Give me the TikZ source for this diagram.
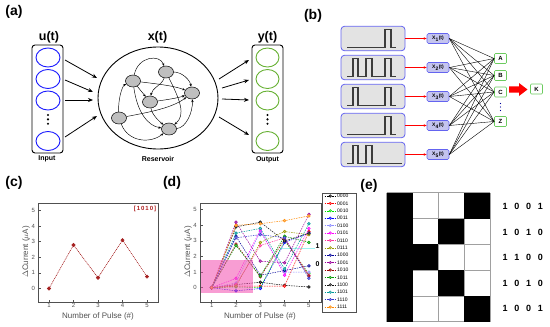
\documentclass[tikz,border=0pt]{standalone}
\usepackage{fontspec}
\setmainfont{Liberation Sans}
\usetikzlibrary{arrows.meta,shapes.geometric}
\definecolor{inblue}{HTML}{1A1AFF}
\definecolor{outgreen}{HTML}{66B032}
\definecolor{boxblue}{HTML}{6464F0}
\definecolor{sigfill}{HTML}{E3E3E3}
\definecolor{xfill}{HTML}{C4C4EE}
\definecolor{wave}{HTML}{3C3C3C}
\definecolor{lettergreen}{HTML}{6CCB5F}
\definecolor{axisgray}{HTML}{505050}
\definecolor{dred}{HTML}{A52020}
\definecolor{c0000}{HTML}{000000}
\definecolor{c0001}{HTML}{FF0000}
\definecolor{c0010}{HTML}{00E000}
\definecolor{c0011}{HTML}{0000FF}
\definecolor{c0100}{HTML}{8C8CFF}
\definecolor{c0101}{HTML}{FF00FF}
\definecolor{c0110}{HTML}{FF3399}
\definecolor{c0111}{HTML}{9A9A00}
\definecolor{c1000}{HTML}{000099}
\definecolor{c1001}{HTML}{990099}
\definecolor{c1010}{HTML}{990000}
\definecolor{c1011}{HTML}{009900}
\definecolor{c1100}{HTML}{111111}
\definecolor{c1101}{HTML}{009999}
\definecolor{c1110}{HTML}{3333CC}
\definecolor{c1111}{HTML}{FF8800}
\definecolor{cyanline}{HTML}{A0F0F0}
\definecolor{gridgray}{HTML}{A0A0A0}
\begin{document}
\begin{tikzpicture}[x=1pt,y=-1pt,
 panellabel/.style={font=\fontsize{14}{14}\selectfont\bfseries, inner sep=0},
 vlabel/.style={font=\fontsize{12.5}{12.5}\selectfont\bfseries, inner sep=0},
 sublabel/.style={font=\fontsize{7}{7}\selectfont\bfseries, inner sep=0},
 colbox/.style={draw, rounded corners=3pt, line width=0.9pt, minimum width=31pt, minimum height=108pt, inner sep=0},
 inell/.style={ellipse, draw=inblue, line width=0.9pt, minimum width=24pt, minimum height=19pt, inner sep=0},
 outell/.style={ellipse, draw=outgreen, line width=0.9pt, minimum width=23pt, minimum height=19pt, inner sep=0},
 resnode/.style={ellipse, draw, fill=gray!50, line width=0.5pt, minimum width=15pt, minimum height=12pt, inner sep=0},
 redge/.style={-{Stealth[length=3pt,width=2.4pt]}, line width=0.45pt},
 bigarr/.style={-{Stealth[length=5pt,width=4pt]}, line width=0.8pt},
 sigbox/.style={draw=boxblue, fill=sigfill, rounded corners=3.5pt, line width=0.8pt, minimum width=64pt, minimum height=24.5pt, inner sep=0},
 wavel/.style={draw=wave, line width=1.1pt},
 xnode/.style={draw=boxblue, fill=xfill, rounded corners=1.5pt, line width=0.7pt, minimum width=22pt, minimum height=10pt, inner sep=0, font=\fontsize{5}{5}\selectfont\bfseries},
 lnode/.style={draw=lettergreen, fill=white, rounded corners=1pt, line width=0.7pt, minimum width=12pt, minimum height=10pt, inner sep=0, font=\fontsize{6}{6}\selectfont\bfseries},
 redarr/.style={-{Stealth[length=3pt,width=2.5pt]}, draw=red, line width=0.6pt},
 conn/.style={line width=0.4pt},
 plotframe/.style={draw=axisgray, line width=0.9pt},
 ticklab/.style={font=\fontsize{6}{6}\selectfont, text=axisgray, inner sep=0},
 axtitle/.style={font=\fontsize{8}{8}\selectfont, text=axisgray, inner sep=0},
 cline/.style={draw=dred, line width=0.6pt, dash pattern=on 1pt off 0.8pt, mark=*, mark size=1.6pt, mark options={solid, fill=dred}},
 dline/.style={draw=#1, line width=0.5pt, dash pattern=on 1.5pt off 1pt, mark=*, mark size=1.4pt, mark options={solid, fill=#1!60, draw=#1}},
 legtext/.style={font=\fontsize{5}{5}\selectfont, inner sep=0, anchor=west},
 rowlab/.style={font=\fontsize{9}{9}\selectfont\bfseries, inner sep=0},
]
\useasboundingbox (0,0) rectangle (550,327);

% ================= (a) =================
\node[panellabel] (la) at (14,12) {(a)};
\node[vlabel] (ut) at (49,37) {u(t)};
\node[vlabel] (xt) at (157.5,37) {x(t)};
\node[vlabel] (yt) at (267.5,37) {y(t)};
\node[colbox] (inbox) at (47.5,99) {};
\node[colbox] (outbox) at (267.5,99) {};
\node[inell] (i1) at (48,57.5) {};
\node[inell] (i2) at (48,79) {};
\node[inell] (i3) at (48,100.5) {};
\node[inell] (i4) at (48,141) {};
\fill (48,115) circle (1.2) (48,119.3) circle (1.2) (48,123.7) circle (1.2);
\node[outell] (o1) at (267.5,57.5) {};
\node[outell] (o2) at (267.5,79) {};
\node[outell] (o3) at (267.5,100.5) {};
\node[outell] (o4) at (267.5,141) {};
\fill (267.5,115) circle (1.2) (267.5,119.3) circle (1.2) (267.5,123.7) circle (1.2);
\node[sublabel] (inlab) at (47,159) {Input};
\node[sublabel] (reslab) at (158,159) {Reservoir};
\node[sublabel] (outlab) at (267.5,160) {Output};
\node[ellipse, draw, line width=0.9pt, minimum width=120pt, minimum height=102pt, inner sep=0] (res) at (158,98) {};
% input arrows
\coordinate (ia1) at (65,60);  \coordinate (ib1) at (97,78);
\coordinate (ia2) at (65,80);  \coordinate (ib2) at (93,92);
\coordinate (ia3) at (65,100); \coordinate (ib3) at (93,100);
\coordinate (ia4) at (65,137); \coordinate (ib4) at (97,116);
\foreach \k in {1,2,3,4} {\draw[bigarr] (ia\k) -- (ib\k);}
% output arrows
\coordinate (oa1) at (219,79);  \coordinate (ob1) at (249,60);
\coordinate (oa2) at (222,88);  \coordinate (ob2) at (249,80);
\coordinate (oa3) at (222,99);  \coordinate (ob3) at (249,100);
\coordinate (oa4) at (219,117); \coordinate (ob4) at (249,135);
\foreach \k in {1,2,3,4} {\draw[bigarr] (oa\k) -- (ob\k);}
% reservoir nodes
\node[resnode] (n1) at (133,81) {};
\node[resnode] (n2) at (166,72) {};
\node[resnode] (n3) at (192,93) {};
\node[resnode] (n4) at (150,102) {};
\node[resnode] (n5) at (119,118) {};
\node[resnode] (n6) at (169,129) {};
\draw[redge] (n1) .. controls (138,56) and (160,54) .. (n2);
\draw[redge] (n1) .. controls (158,84) and (175,86) .. (n3);
\draw[redge] (n1) -- (n4);
\draw[redge] (n1) .. controls (137,112) and (148,126) .. (n6);
\draw[redge] (n5) .. controls (118,100) and (122,86) .. (n1);
\draw[redge] (n5) .. controls (150,112) and (172,108) .. (n3);
\draw[redge] (n5) .. controls (128,142) and (150,144) .. (n6);
\draw[redge] (n2) .. controls (182,72) and (190,80) .. (n3);
\draw[redge] (n2) .. controls (162,85) and (152,88) .. (n4);
\draw[redge] (n4) .. controls (152,115) and (160,122) .. (n6);
\draw[redge] (n4) .. controls (165,100) and (178,98) .. (n3);
\draw[redge] (n6) .. controls (186,128) and (193,112) .. (n3);
\draw[redge] (n2) .. controls (180,100) and (186,115) .. (n6);

% ================= (b) =================
\node[panellabel] (lb) at (313,16) {(b)};
\foreach \k/\yy in {1/38.5,2/67.5,3/96.5,4/125.5,5/154.5} {
  \node[sigbox] (s\k) at (373,\yy) {};
  \node[xnode] (x\k) at (438,\yy) {X\textsubscript{\k}(t)};
  \draw[redarr] (s\k) -- (x\k);
}
% waveforms
\draw[wavel] (347,47.5) -- (385,47.5) -- (385,29.5) -- (391,29.5) -- (391,47.5) -- (396,47.5);
\draw[wavel] (347,76.5) -- (353,76.5) -- (353,58.5) -- (358,58.5) -- (358,76.5) -- (366,76.5) -- (366,58.5) -- (372,58.5) -- (372,76.5) -- (385,76.5) -- (385,58.5) -- (391,58.5) -- (391,76.5) -- (396,76.5);
\draw[wavel] (347,105.5) -- (353,105.5) -- (353,87.5) -- (358,87.5) -- (358,105.5) -- (385,105.5) -- (385,87.5) -- (391,87.5) -- (391,105.5) -- (396,105.5);
\draw[wavel] (347,134.5) -- (385,134.5) -- (385,116.5) -- (391,116.5) -- (391,134.5) -- (396,134.5);
\draw[wavel] (347,163.5) -- (353,163.5) -- (353,145.5) -- (358,145.5) -- (358,163.5) -- (366,163.5) -- (366,145.5) -- (372,145.5) -- (372,163.5) -- (402,163.5);
% letters
\node[lnode] (lA) at (500.5,58.5) {A};
\node[lnode] (lB) at (500.5,75.5) {B};
\node[lnode] (lC) at (500.5,92) {C};
\node[lnode] (lZ) at (500.5,121.5) {Z};
\fill[c1000] (500.5,103.5) circle (0.6) (500.5,107) circle (0.6) (500.5,110.5) circle (0.6);
\foreach \k in {1,...,5} {\foreach \L in {A,B,C,Z} {\draw[conn] (x\k.east) -- (l\L.west);}}
\node[lnode] (lK) at (536.5,89) {K};
\fill[red] (509,86.3) -- (519,86.3) -- (519,83) -- (527.5,89.5) -- (519,96) -- (519,92.7) -- (509,92.7) -- cycle;

% ================= (c) =================
\node[panellabel] (lc) at (14,183) {(c)};
\draw[plotframe] (38,203) rectangle (158,302);
\foreach \k in {0,...,5} {
  \draw[axisgray, line width=0.5pt] (38,288.5-15.6*\k) -- (40.5,288.5-15.6*\k);
  \node[ticklab] (cy\k) at (33.3,288.5-15.6*\k) {\k};
}
\foreach \k in {1,...,5} {
  \draw[axisgray, line width=0.5pt] (49+24.5*\k-24.5,302) -- (49+24.5*\k-24.5,299.5);
  \node[ticklab] (cx\k) at (49+24.5*\k-24.5,305.5) {\k};
}
\node[axtitle] (cxt) at (98,316) {Number of Pulse (\#)};
\node[axtitle, rotate=90] (cyt) at (26,252) {$\Delta$Current ($\mu$A)};
\begin{scope}[shift={(24.5,288.5)}, x=24.5pt, y=15.6pt]
  \draw[cline] plot coordinates {(1,0) (2,2.79) (3,0.69) (4,3.1) (5,0.76)};
\end{scope}
\node[font=\fontsize{6}{6}\selectfont\bfseries, text=dred!90!red, inner sep=0] (ctag) at (145,208.5) {[\,1\,0\,1\,0\,]};

% ================= (d) =================
\node[panellabel] (ld) at (172,183) {(d)};
\draw[plotframe] (200,203) rectangle (321,302);
\foreach \k in {0,...,5} {
  \draw[axisgray, line width=0.5pt] (200,287.7-15.6*\k) -- (202.5,287.7-15.6*\k);
  \node[ticklab] (dy\k) at (195,287.7-15.6*\k) {\k};
}
\foreach \k in {1,...,5} {
  \draw[axisgray, line width=0.5pt] (211.7+24.3*\k-24.3,302) -- (211.7+24.3*\k-24.3,299.5);
  \node[ticklab] (dx\k) at (211.7+24.3*\k-24.3,305.5) {\k};
}
\node[axtitle] (dxt) at (260,316) {Number of Pulse (\#)};
\node[axtitle, rotate=90] (dyt) at (188,252) {$\Delta$Current ($\mu$A)};
\draw[cyanline, line width=0.6pt] (280,248.3) -- (315,248.3);
\begin{scope}[shift={(187.4,287.7)}, x=24.3pt, y=15.6pt]
  \draw[dline=c0000] plot coordinates {(1,0) (2,0.2) (3,0.35) (4,0.15) (5,0.05)};
  \draw[dline=c0001] plot coordinates {(1,0) (2,0.1) (3,0.1) (4,0.1) (5,3.6)};
  \draw[dline=c0010] plot coordinates {(1,0) (2,0.05) (3,0.0) (4,3.0) (5,0.9)};
  \draw[dline=c0011] plot coordinates {(1,0) (2,-0.2) (3,-0.05) (4,2.9) (5,3.5)};
  \draw[dline=c0100] plot coordinates {(1,0) (2,0.3) (3,3.6) (4,1.0) (5,1.0)};
  \draw[dline=c0101] plot coordinates {(1,0) (2,0.6) (3,3.7) (4,0.8) (5,3.8)};
  \draw[dline=c0110] plot coordinates {(1,0) (2,0.2) (3,2.7) (4,3.2) (5,0.8)};
  \draw[dline=c0111] plot coordinates {(1,0) (2,0.1) (3,2.9) (4,3.6) (5,3.4)};
  \draw[dline=c1000] plot coordinates {(1,0) (2,3.3) (3,0.8) (4,1.1) (5,1.4)};
  \draw[dline=c1001] plot coordinates {(1,0) (2,4.2) (3,1.7) (4,1.6) (5,4.7)};
  \draw[dline=c1010] plot coordinates {(1,0) (2,2.8) (3,0.7) (4,3.1) (5,0.75)};
  \draw[dline=c1011] plot coordinates {(1,0) (2,2.7) (3,0.75) (4,3.3) (5,2.9)};
  \draw[dline=c1100] plot coordinates {(1,0) (2,3.9) (3,4.2) (4,3.0) (5,3.5)};
  \draw[dline=c1101] plot coordinates {(1,0) (2,3.5) (3,3.8) (4,1.2) (5,4.1)};
  \draw[dline=c1110] plot coordinates {(1,0) (2,3.2) (3,3.4) (4,3.2) (5,0.6)};
  \draw[dline=c1111] plot coordinates {(1,0) (2,4.0) (3,4.1) (4,4.3) (5,4.6)};
\end{scope}
\fill[magenta!70, opacity=0.55] (200.5,260) rectangle (253,293);
\node[font=\fontsize{7}{7}\selectfont\bfseries, inner sep=0] (d1) at (317.5,245.7) {1};
\node[font=\fontsize{7}{7}\selectfont\bfseries, inner sep=0] (d0) at (317.5,264.3) {0};
% legend
\draw[draw=axisgray, line width=0.8pt] (322.7,193) rectangle (356.7,312);
\foreach \code [count=\i from 0] in {0000,0001,0010,0011,0100,0101,0110,0111,1000,1001,1010,1011,1100,1101,1110,1111} {
  \draw[dline=c\code] (324.5,196+7.4*\i) -- (335.5,196+7.4*\i);
  \fill[c\code!60] (330.3,196+7.4*\i) circle (1.3);
  \draw[c\code, line width=0.4pt] (330.3,196+7.4*\i) circle (1.3);
  \node[legtext] (lg\code) at (337,196+7.4*\i) {\code};
}

% ================= (e) =================
\node[panellabel] (le) at (369,186) {(e)};
\foreach \c in {0,...,4} {\draw[gridgray, line width=0.6pt] (386.7+25.8*\c,192.7) -- (386.7+25.8*\c,321.7);}
\foreach \r in {0,...,5} {\draw[gridgray, line width=0.6pt] (386.7,192.7+25.8*\r) -- (489.9,192.7+25.8*\r);}
\foreach \r/\c in {0/0,0/3,1/0,1/2,2/0,2/1,3/0,3/2,4/0,4/3} {
  \fill[black] (386.7+25.8*\c,192.7+25.8*\r) rectangle ++(25.9,25.9);
}
\node[rowlab] (r1) at (522.8,206.5) {1\hspace{6.8pt}0\hspace{6.8pt}0\hspace{6.8pt}1};
\node[rowlab] (r2) at (522.8,232) {1\hspace{6.8pt}0\hspace{6.8pt}1\hspace{6.8pt}0};
\node[rowlab] (r3) at (522.8,257.5) {1\hspace{6.8pt}1\hspace{6.8pt}0\hspace{6.8pt}0};
\node[rowlab] (r4) at (522.8,283) {1\hspace{6.8pt}0\hspace{6.8pt}1\hspace{6.8pt}0};
\node[rowlab] (r5) at (522.8,308.5) {1\hspace{6.8pt}0\hspace{6.8pt}0\hspace{6.8pt}1};
\end{tikzpicture}
\end{document}
